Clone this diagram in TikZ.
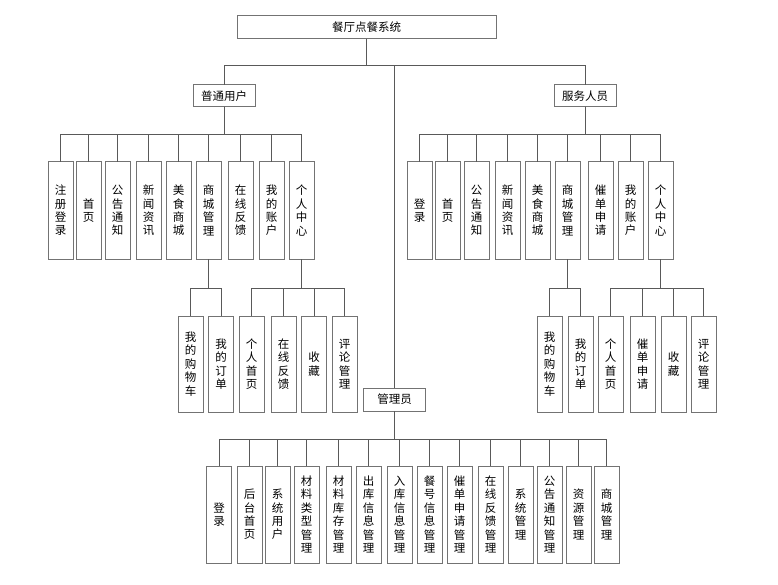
\documentclass[tikz,border=0pt]{standalone}
\usepackage{fontspec}
\newfontfamily\cjk{Noto Sans CJK SC}
\usepackage{tikz}

\begin{document}
\begin{tikzpicture}[x=1pt,y=-1pt,
  every node/.style={draw=black!55, line width=1pt, inner sep=0pt, outer sep=0pt, font=\cjk\fontsize{11.5}{13.4}\selectfont},
  hbox/.style={minimum width=62pt, minimum height=22pt},
  vbox/.style={minimum width=25pt, minimum height=97pt, align=center},
  link/.style={draw=black!65, line width=0.8pt}]
\useasboundingbox (0,0) rectangle (778,585);

\node[minimum width=259pt, minimum height=23pt] (sys) at (366.5,27.5) {餐厅点餐系统};
\node[hbox] (user) at (224,96) {普通用户};
\node[hbox] (staff) at (585,96) {服务人员};
\node[hbox, minimum height=23pt] (admin) at (394.5,399.5) {管理员};

\node[vbox] (ureg) at (60.5,210.5) {注\\册\\登\\录};
\node[vbox] (uhome) at (88.5,210.5) {首\\页};
\node[vbox] (unote) at (117.5,210.5) {公\\告\\通\\知};
\node[vbox] (unews) at (148.5,210.5) {新\\闻\\资\\讯};
\node[vbox] (ufood) at (178.5,210.5) {美\\食\\商\\城};
\node[vbox] (umall) at (208.5,210.5) {商\\城\\管\\理};
\node[vbox] (ufeed) at (240.5,210.5) {在\\线\\反\\馈};
\node[vbox] (uacct) at (271.5,210.5) {我\\的\\账\\户};
\node[vbox] (uself) at (301.5,210.5) {个\\人\\中\\心};

\node[vbox] (slog) at (419.5,210.5) {登\\录};
\node[vbox] (shome) at (447.5,210.5) {首\\页};
\node[vbox] (snote) at (476.5,210.5) {公\\告\\通\\知};
\node[vbox] (snews) at (507.5,210.5) {新\\闻\\资\\讯};
\node[vbox] (sfood) at (537.5,210.5) {美\\食\\商\\城};
\node[vbox] (small) at (567.5,210.5) {商\\城\\管\\理};
\node[vbox] (surge) at (600.5,210.5) {催\\单\\申\\请};
\node[vbox] (sacct) at (630.5,210.5) {我\\的\\账\\户};
\node[vbox] (sself) at (660.5,210.5) {个\\人\\中\\心};

\node[vbox, minimum height=96pt] (ucart) at (190.5,364) {我\\的\\购\\物\\车};
\node[vbox, minimum height=96pt] (uorder) at (221,364) {我\\的\\订\\单};
\node[vbox, minimum height=96pt] (upage) at (251.5,364) {个\\人\\首\\页};
\node[vbox, minimum height=96pt] (ureply) at (283.5,364) {在\\线\\反\\馈};
\node[vbox, minimum height=96pt] (ufav) at (314,364) {收\\藏};
\node[vbox, minimum height=96pt] (ucomm) at (344.5,364) {评\\论\\管\\理};

\node[vbox, minimum height=96pt] (scart) at (549.5,364) {我\\的\\购\\物\\车};
\node[vbox, minimum height=96pt] (sorder) at (580.5,364) {我\\的\\订\\单};
\node[vbox, minimum height=96pt] (spage) at (610.5,364) {个\\人\\首\\页};
\node[vbox, minimum height=96pt] (surge2) at (642.5,364) {催\\单\\申\\请};
\node[vbox, minimum height=96pt] (sfav) at (673.5,364) {收\\藏};
\node[vbox, minimum height=96pt] (scomm) at (703.5,364) {评\\论\\管\\理};

\node[vbox] (alog) at (219,514.5) {登\\录};
\node[vbox] (ahome) at (249.5,514.5) {后\\台\\首\\页};
\node[vbox] (auser) at (277.5,514.5) {系\\统\\用\\户};
\node[vbox] (atype) at (306.5,514.5) {材\\料\\类\\型\\管\\理};
\node[vbox] (astock) at (338.5,514.5) {材\\料\\库\\存\\管\\理};
\node[vbox] (aout) at (368.5,514.5) {出\\库\\信\\息\\管\\理};
\node[vbox] (ain) at (399.5,514.5) {入\\库\\信\\息\\管\\理};
\node[vbox] (anum) at (429.5,514.5) {餐\\号\\信\\息\\管\\理};
\node[vbox] (aurge) at (459.5,514.5) {催\\单\\申\\请\\管\\理};
\node[vbox] (afeed) at (490.5,514.5) {在\\线\\反\\馈\\管\\理};
\node[vbox] (asys) at (520.5,514.5) {系\\统\\管\\理};
\node[vbox] (anote) at (549.5,514.5) {公\\告\\通\\知\\管\\理};
\node[vbox] (ares) at (578.5,514.5) {资\\源\\管\\理};
\node[vbox] (amall) at (606.5,514.5) {商\\城\\管\\理};

% top level
\draw[link] (sys.south) -- ++(0,26) -| (user.north);
\draw[link] (sys.south) -- ++(0,26) -| (staff.north);
\draw[link] (sys.south) -- ++(0,26) -| (admin.north);

% normal user
\draw[link] (user.south) -- ++(0,27) -| (ureg.north);
\draw[link] (user.south) -- ++(0,27) -| (uhome.north);
\draw[link] (user.south) -- ++(0,27) -| (unote.north);
\draw[link] (user.south) -- ++(0,27) -| (unews.north);
\draw[link] (user.south) -- ++(0,27) -| (ufood.north);
\draw[link] (user.south) -- ++(0,27) -| (umall.north);
\draw[link] (user.south) -- ++(0,27) -| (ufeed.north);
\draw[link] (user.south) -- ++(0,27) -| (uacct.north);
\draw[link] (user.south) -- ++(0,27) -| (uself.north);
\draw[link] (umall.south) -- ++(0,29) -| (ucart.north);
\draw[link] (umall.south) -- ++(0,29) -| (uorder.north);
\draw[link] (uself.south) -- ++(0,29) -| (upage.north);
\draw[link] (uself.south) -- ++(0,29) -| (ureply.north);
\draw[link] (uself.south) -- ++(0,29) -| (ufav.north);
\draw[link] (uself.south) -- ++(0,29) -| (ucomm.north);

% staff
\draw[link] (staff.south) -- ++(0,27) -| (slog.north);
\draw[link] (staff.south) -- ++(0,27) -| (shome.north);
\draw[link] (staff.south) -- ++(0,27) -| (snote.north);
\draw[link] (staff.south) -- ++(0,27) -| (snews.north);
\draw[link] (staff.south) -- ++(0,27) -| (sfood.north);
\draw[link] (staff.south) -- ++(0,27) -| (small.north);
\draw[link] (staff.south) -- ++(0,27) -| (surge.north);
\draw[link] (staff.south) -- ++(0,27) -| (sacct.north);
\draw[link] (staff.south) -- ++(0,27) -| (sself.north);
\draw[link] (small.south) -- ++(0,29) -| (scart.north);
\draw[link] (small.south) -- ++(0,29) -| (sorder.north);
\draw[link] (sself.south) -- ++(0,29) -| (spage.north);
\draw[link] (sself.south) -- ++(0,29) -| (surge2.north);
\draw[link] (sself.south) -- ++(0,29) -| (sfav.north);
\draw[link] (sself.south) -- ++(0,29) -| (scomm.north);

% admin
\draw[link] (admin.south) -- ++(0,28) -| (alog.north);
\draw[link] (admin.south) -- ++(0,28) -| (ahome.north);
\draw[link] (admin.south) -- ++(0,28) -| (auser.north);
\draw[link] (admin.south) -- ++(0,28) -| (atype.north);
\draw[link] (admin.south) -- ++(0,28) -| (astock.north);
\draw[link] (admin.south) -- ++(0,28) -| (aout.north);
\draw[link] (admin.south) -- ++(0,28) -| (ain.north);
\draw[link] (admin.south) -- ++(0,28) -| (anum.north);
\draw[link] (admin.south) -- ++(0,28) -| (aurge.north);
\draw[link] (admin.south) -- ++(0,28) -| (afeed.north);
\draw[link] (admin.south) -- ++(0,28) -| (asys.north);
\draw[link] (admin.south) -- ++(0,28) -| (anote.north);
\draw[link] (admin.south) -- ++(0,28) -| (ares.north);
\draw[link] (admin.south) -- ++(0,28) -| (amall.north);
\end{tikzpicture}
\end{document}
